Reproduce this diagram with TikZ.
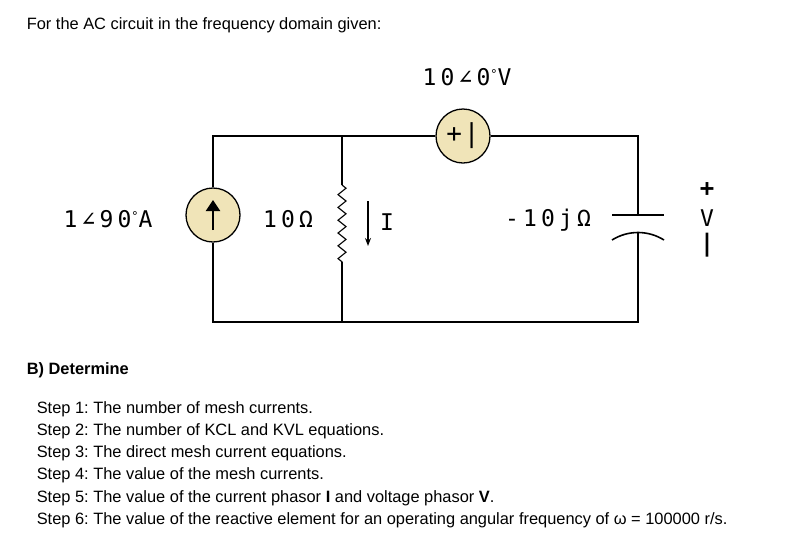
\documentclass[tikz,border=0pt]{standalone}
\usepackage{fontspec}
\setmainfont{Liberation Sans}
\newfontfamily\cfont[LetterSpace=18]{DejaVu Sans Mono}
\newfontfamily\pfont{DejaVu Sans Mono}
\usetikzlibrary{decorations.pathmorphing,arrows.meta}
\begin{document}
\frenchspacing
\begin{tikzpicture}[x=1pt,y=1pt,line width=1.6pt,
  src/.style={circle,draw,fill={rgb,255:red,240;green,228;blue,184},minimum size=54pt,inner sep=0pt,line width=1.3pt},
  lbl/.style={font=\cfont\fontsize{23}{23}\selectfont,inner sep=0pt},
  txt/.style={font=\fontsize{16.4}{18}\selectfont,anchor=west,inner sep=0pt}]
\useasboundingbox (0,0) rectangle (792,-547);
\coordinate (tl) at (213,-136); \coordinate (tm) at (342,-136); \coordinate (tr) at (638,-136);
\coordinate (bl) at (213,-322); \coordinate (bm) at (342,-322); \coordinate (br) at (638,-322);
\coordinate (rt) at (342,-185); \coordinate (rb) at (342,-262);
\coordinate (ct) at (638,-215); \coordinate (cb) at (638,-233);
\node[src] (cs) at (213,-215) {};
\node[src] (vs) at (463,-136) {};
\draw (cs.north) -- (tl) -- (tm) -- (vs.west);
\draw (vs.east) -- (tr) -- (ct);
\draw (cb) -- (br) -- (bm) -- (bl) -- (cs.south);
\draw (tm) -- (rt);
\draw (rb) -- (bm);
\draw[line width=1.1pt,decorate,decoration={zigzag,segment length=12.8pt,amplitude=4pt}] (rt) -- (rb);
\draw (612,-215) -- (664,-215);
\draw (612,-240) .. controls (628,-230) and (648,-230) .. (664,-240);
\coordinate (a1) at (213,-230); \coordinate (a2) at (213,-200);
\draw[-{Triangle[length=11pt,width=14pt]},line width=2pt] (a1) -- (a2);
\node[font=\pfont\fontsize{26}{26}\selectfont] (pm) at (463,-136) {+\kern2pt|};
\coordinate (ia) at (368,-201); \coordinate (ib) at (368,-246);
\draw[-{Stealth[length=8pt]},line width=1.3pt] (ia) -- (ib);
\node[lbl] (li) at (387,-222) {I};
\node[lbl] (lv) at (467,-77) {10∠0\raisebox{7pt}{\fontsize{12}{12}\selectfont°}V};
\node[lbl] (lc) at (108,-219) {1∠90\raisebox{7pt}{\fontsize{12}{12}\selectfont°}A};
\node[lbl] (lr) at (288,-219) {10Ω};
\node[lbl] (lx) at (548,-220) {-10jΩ};
\node[lbl,font=\pfont\bfseries\fontsize{24}{24}\selectfont] (vp) at (707,-190) {+};
\node[lbl,font=\pfont\fontsize{23}{23}\selectfont] (vv) at (707,-218) {V};
\node[lbl,font=\pfont\bfseries\fontsize{24}{24}\selectfont] (vm) at (707,-245) {|};
\node[txt] (t0) at (26,-25) {For the AC circuit in the frequency domain given:};
\node[txt,font=\fontsize{16.4}{18}\selectfont\bfseries] (t1) at (26,-370) {B) Determine};
\node[txt] (s1) at (36,-409) {Step 1: The number of mesh currents.};
\node[txt] (s2) at (36,-431) {Step 2: The number of KCL and KVL equations.};
\node[txt] (s3) at (36,-453) {Step 3: The direct mesh current equations.};
\node[txt] (s4) at (36,-475) {Step 4: The value of the mesh currents.};
\node[txt] (s5) at (36,-498) {Step 5: The value of the current phasor \textbf{I} and voltage phasor \textbf{V}.};
\node[txt] (s6) at (36,-520) {Step 6: The value of the reactive element for an operating angular frequency of ω = 100000 r/s.};
\end{tikzpicture}
\end{document}
